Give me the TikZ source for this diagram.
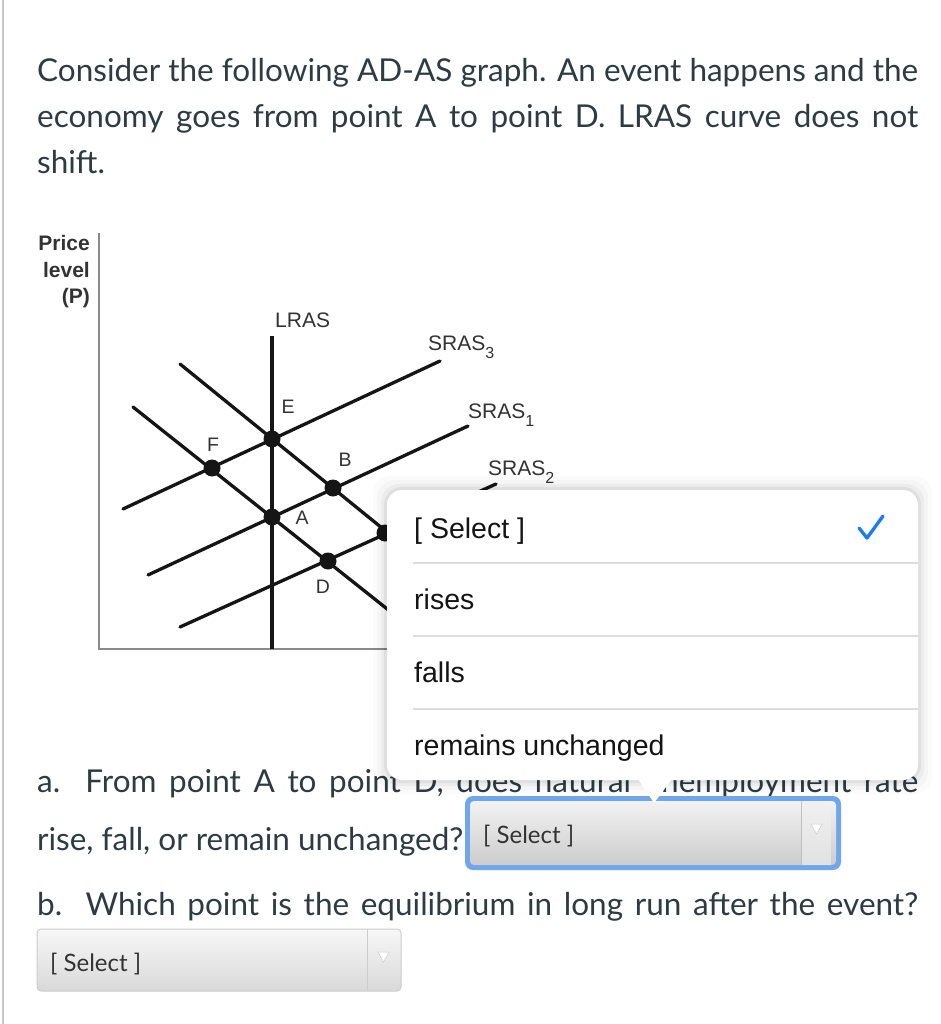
\documentclass[tikz,border=0pt]{standalone}
\usepackage{fontspec}
\setmainfont{Lato}
\newfontfamily\arialf{Liberation Sans}
\definecolor{canvastext}{HTML}{2D3B45}
\definecolor{graphtext}{HTML}{333333}
\definecolor{axisgray}{HTML}{8A8A8A}
\definecolor{sepgray}{HTML}{DDDDDD}
\definecolor{checkblue}{HTML}{1A7CF5}
\definecolor{focusblue}{HTML}{6FA6EC}
\definecolor{curvecol}{HTML}{151515}
\definecolor{bordergray}{HTML}{C8C8C8}
\begin{document}
\begin{tikzpicture}[x=1pt,y=-1pt,
  curve/.style={line width=3.3pt, draw=curvecol, line cap=round},
  axisline/.style={line width=2pt, draw=axisgray},
  eqdot/.style={circle, fill=curvecol, inner sep=0pt, minimum size=17pt},
  ptlabel/.style={font=\arialf\fontsize{19.5}{19.5}\selectfont, text=graphtext, inner sep=0pt},
  curvelabel/.style={font=\arialf\fontsize{21}{21}\selectfont, text=graphtext, inner sep=0pt, anchor=base west},
  axislabel/.style={font=\arialf\bfseries\fontsize{21}{21}\selectfont, text=graphtext, inner sep=0pt, anchor=base east},
  bodytext/.style={font=\fontsize{31.5}{31.5}\selectfont, text=canvastext, inner sep=0pt, anchor=base west},
  menuitem/.style={font=\arialf\fontsize{28.5}{28.5}\selectfont, text=black!92, inner sep=0pt, anchor=base west},
  seltext/.style={font=\fontsize{24}{24}\selectfont, text=graphtext, inner sep=0pt, anchor=base west},
  sepline/.style={line width=1.2pt, draw=sepgray}
]
\useasboundingbox (0,0) rectangle (941,1024);
\fill[white] (0,0) rectangle (941,1024);
\draw[line width=1.5pt, bordergray] (3,0) coordinate (bt) -- (3,1024) coordinate (bb);

% ---------- intro text ----------
\node[bodytext] (t1) at (37,82) {\makebox[881pt][s]{Consider the following AD-AS graph. An event happens and the}};
\node[bodytext] (t2) at (37,128) {\makebox[881pt][s]{economy goes from point A to point D. LRAS curve does not}};
\node[bodytext] (t3) at (37,174) {shift.};

% ---------- graph ----------
\node[axislabel] (lp1) at (90,251) {Price};
\node[axislabel] (lp2) at (90,277) {level};
\node[axislabel] (lp3) at (90,303) {(P)};

\coordinate (ytop) at (99,233);
\coordinate (orig) at (99,649);
\coordinate (xend) at (420,649);
\draw[axisline] (ytop) -- (orig) -- (xend);

\coordinate (lrasT) at (272,336);
\coordinate (lrasB) at (272,649);
\draw[curve, line cap=butt] (lrasT) -- (lrasB);
\node[curvelabel] (lraslab) at (275,327) {LRAS};

\coordinate (ad1s) at (180,364);
\coordinate (ad1e) at (430,567);
\coordinate (ad2s) at (133,407);
\coordinate (ad2e) at (430,643);
\draw[curve] (ad1s) -- (ad1e);
\draw[curve] (ad2s) -- (ad2e);

\coordinate (s3s) at (123,509);
\coordinate (s3e) at (440,361);
\coordinate (s1s) at (148,575);
\coordinate (s1e) at (468,426);
\coordinate (s2s) at (180,627);
\coordinate (s2e) at (496,484);
\draw[curve] (s3s) -- (s3e);
\draw[curve] (s1s) -- (s1e);
\draw[curve] (s2s) -- (s2e);

\node[curvelabel] (s3lab) at (428,350) {SRAS\raisebox{-8pt}{\fontsize{16}{16}\selectfont 3}};
\node[curvelabel] (s1lab) at (468,418) {SRAS\raisebox{-8pt}{\fontsize{16}{16}\selectfont 1}};
\node[curvelabel] (s2lab) at (488,475) {SRAS\raisebox{-8pt}{\fontsize{16}{16}\selectfont 2}};

\node[eqdot] (E) at (272,439) {};
\node[eqdot] (F) at (212,468) {};
\node[eqdot] (B) at (333,488) {};
\node[eqdot] (A) at (272,517) {};
\node[eqdot] (D) at (328,561) {};
\node[eqdot] (C) at (385,533) {};

\node[ptlabel] (Elab) at (288,407) {E};
\node[ptlabel] (Flab) at (213,445) {F};
\node[ptlabel] (Blab) at (345,460) {B};
\node[ptlabel] (Alab) at (302,518) {A};
\node[ptlabel] (Dlab) at (323,587) {D};

% ---------- question a ----------
\node[bodytext] (qa) at (37,792) {\makebox[881pt][s]{a.\ \ From point A to point D, does natural unemployment rate}};
\node[bodytext] (qa2) at (37,850) {rise, fall, or remain unchanged?};

% select box 1 (focused)
\fill[focusblue, rounded corners=8pt] (465,796) rectangle (841,870);
\shade[top color=black!5, bottom color=black!20, rounded corners=4pt] (470,801) rectangle (836,865);
\fill[black!6, opacity=0.6] (801,801) rectangle (831,865);
\draw[line width=1pt, black!25] (801,801) -- (801,865);
\node[seltext] (sel1) at (483,843) {[ Select ]};
\fill[white, draw=black!20, line width=0.5pt] (811,824) -- (822,824) -- (816.5,834) -- cycle;

% ---------- question b ----------
\node[bodytext] (qb) at (37,915) {\makebox[881pt][s]{b.\ \ Which point is the equilibrium in long run after the event?}};
\shade[top color=black!3, bottom color=black!15, rounded corners=4pt] (37,929) rectangle (401,991);
\draw[line width=1pt, black!20, rounded corners=4pt] (37,929) rectangle (401,991);
\draw[line width=1pt, black!20] (367,929) -- (367,991);
\node[seltext] (sel2) at (50,971) {[ Select ]};
\fill[white, draw=black!20, line width=0.5pt] (378,952) -- (389,952) -- (383.5,962) -- cycle;

% ---------- popup menu ----------
\foreach \k/\o in {14/0.015,10/0.025,6/0.035,3/0.05}{
  \fill[black, opacity=\o, rounded corners=18pt] (387-\k,490-\k) rectangle (918+\k,780+\k);
}
\fill[white, rounded corners=15pt] (387,490) rectangle (918,780);
\fill[white] (638,779) -- (672,779) -- (654,803) -- cycle;
\node[menuitem] (m0) at (414,538) {[ Select ]};
\node[menuitem] (m1) at (414,609) {rises};
\node[menuitem] (m2) at (414,682) {falls};
\node[menuitem] (m3) at (414,755) {remains unchanged};
\draw[sepline] (413,563) -- (918,563);
\draw[sepline] (413,636) -- (918,636);
\draw[sepline] (413,709) -- (918,709);
\coordinate (ck1) at (859,528);
\coordinate (ck2) at (867,538);
\coordinate (ck3) at (883,516);
\draw[checkblue, line width=3.3pt, line cap=round, line join=round] (ck1) -- (ck2) -- (ck3);
\end{tikzpicture}
\end{document}
